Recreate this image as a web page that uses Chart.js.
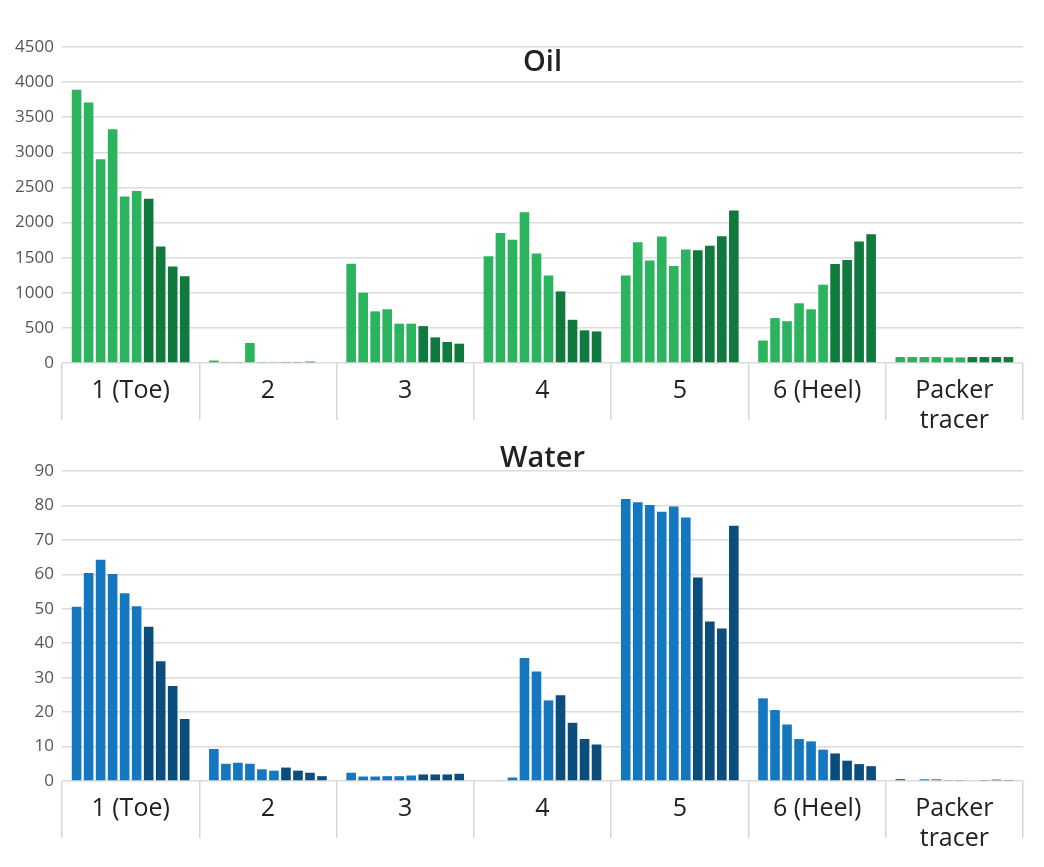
<!DOCTYPE html>
<html>
<head>
<meta charset="utf-8">
<script src="https://cdn.jsdelivr.net/npm/chart.js@4.4.1/dist/chart.umd.min.js"></script>
<style>
  html, body { margin: 0; padding: 0; background: #fff; }
  #wrap { position: relative; width: 1044px; height: 867px; }
  .box { position: absolute; left: 0; width: 1044px; }
  #oilBox { top: 0; height: 430px; }
  #waterBox { top: 430px; height: 437px; }
</style>
</head>
<body>
<div id="wrap">
  <div class="box" id="oilBox"><canvas id="oilChart"></canvas></div>
  <div class="box" id="waterBox"><canvas id="waterChart"></canvas></div>
</div>
<script>
const zones = ["1 (Toe)", "2", "3", "4", "5", "6 (Heel)", ["Packer", "tracer"]];

// one row per zone, ten samples each (first six light, last four dark)
const oilZone1 = [3890, 3710, 2900, 3330, 2370, 2450, 2340, 1660, 1375, 1235];
const oilZone2 = [35, 15, 15, 285, 15, 15, 15, 15, 20, 0];
const oilZone3 = [1415, 1000, 735, 765, 560, 560, 525, 365, 300, 275];
const oilZone4 = [1520, 1850, 1755, 2145, 1560, 1245, 1020, 615, 465, 450];
const oilZone5 = [1245, 1720, 1460, 1800, 1380, 1615, 1605, 1670, 1805, 2170];
const oilZone6 = [320, 640, 595, 850, 765, 1115, 1410, 1465, 1730, 1835];
const oilPacker = [85, 85, 85, 85, 80, 80, 85, 85, 85, 85];

const waterZone1 = [50.6, 60.4, 64.2, 60.1, 54.5, 50.7, 44.8, 34.8, 27.6, 18.0];
const waterZone2 = [9.3, 5.0, 5.3, 5.0, 3.4, 3.0, 3.9, 3.0, 2.4, 1.4];
const waterZone3 = [2.4, 1.3, 1.3, 1.4, 1.4, 1.6, 1.9, 1.9, 1.9, 2.1];
const waterZone4 = [0.2, 0.2, 1.0, 35.7, 31.8, 23.4, 24.9, 16.9, 12.2, 10.6];
const waterZone5 = [81.9, 80.9, 80.1, 78.2, 79.7, 76.5, 59.1, 46.3, 44.3, 74.1];
const waterZone6 = [24.0, 20.6, 16.4, 12.2, 11.5, 9.1, 8.0, 5.9, 4.9, 4.3];
const waterPacker = [0.6, 0, 0.5, 0.5, 0.3, 0.3, 0, 0.3, 0.4, 0.3];

const oilRows = [oilZone1, oilZone2, oilZone3, oilZone4, oilZone5, oilZone6, oilPacker];
const waterRows = [waterZone1, waterZone2, waterZone3, waterZone4, waterZone5, waterZone6, waterPacker];

const fontFamily = "'Open Sans', 'Noto Sans', sans-serif";

// draws the panel name inside the plot, top centre
const panelTitle = {
  id: "panelTitle",
  afterDraw(chart, args, opts) {
    const ctx = chart.ctx;
    const area = chart.chartArea;
    ctx.save();
    ctx.font = "600 29px " + fontFamily;
    ctx.fillStyle = "#222";
    ctx.textAlign = "center";
    ctx.textBaseline = "middle";
    ctx.fillText(opts.text, (area.left + area.right) / 2, area.top + opts.offset);
    ctx.restore();
  }
};

function makeDatasets(rows, light, dark) {
  let sets = [];
  for (let i = 0; i < 10; i++) {
    sets.push({
      label: "Sample " + (i + 1),
      data: rows.map(r => r[i]),
      backgroundColor: i < 6 ? light : dark,
      barPercentage: 0.8,
      categoryPercentage: 0.875
    });
  }
  return sets;
}

function createChart(id, rows, light, dark, title, max, step, titleOffset, axisTop, axisBottom) {
  const ctx = document.getElementById(id);
  return new Chart(ctx, {
    type: "bar",
    data: {
      labels: zones,
      datasets: makeDatasets(rows, light, dark)
    },
    options: {
      responsive: true,
      maintainAspectRatio: false,
      animation: false,
      layout: { padding: { top: axisTop, right: 21, left: 0, bottom: 0 } },
      plugins: {
        legend: { display: false },
        tooltip: { enabled: false },
        panelTitle: { text: title, offset: titleOffset }
      },
      scales: {
        x: {
          grid: {
            offset: true,
            drawOnChartArea: false,
            drawTicks: true,
            tickLength: 57,
            color: "#d6d6d6",
            lineWidth: 1.5
          },
          border: { display: false },
          ticks: {
            color: "#222",
            font: { family: fontFamily, size: 25 },
            padding: -44,
            maxRotation: 0,
            autoSkip: false
          },
          afterFit(scale) { scale.height = axisBottom; }
        },
        y: {
          min: 0,
          max: max,
          grid: { color: "#dcdcdc", lineWidth: 1.5, drawTicks: false },
          border: { display: false },
          ticks: {
            stepSize: step,
            color: "#555",
            padding: 8,
            font: { family: fontFamily, size: 17 },
            callback: value => String(value)
          },
          afterFit(scale) { scale.width = 62; }
        }
      }
    },
    plugins: [panelTitle]
  });
}

createChart("oilChart", oilRows, "#2bb35e", "#107a3e", "Oil", 4500, 500, 16, 47, 67);
createChart("waterChart", waterRows, "#1477bf", "#0b4d7d", "Water", 90, 10, -12, 41, 86);
</script>
</body>
</html>
